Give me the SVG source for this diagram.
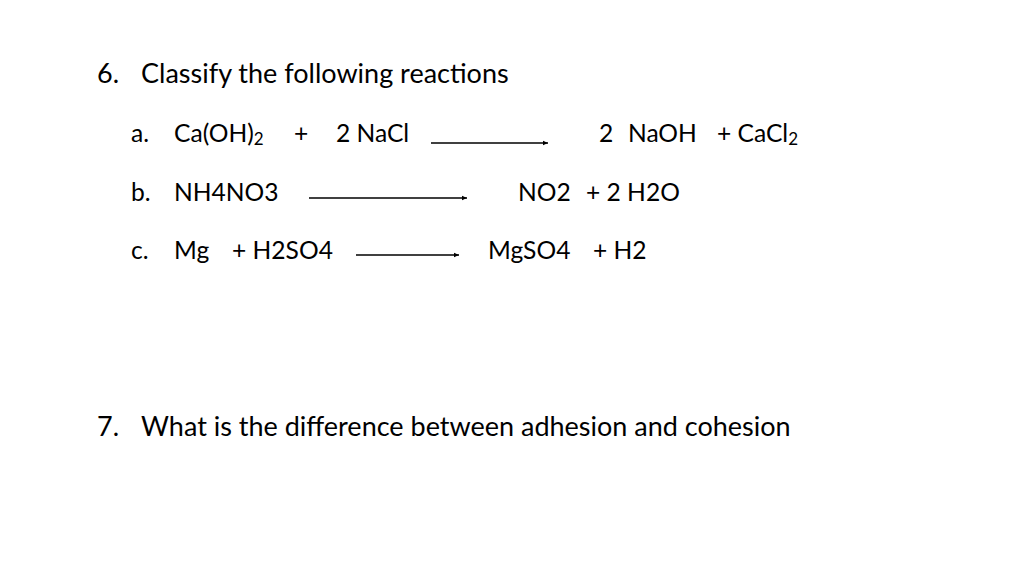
<svg xmlns="http://www.w3.org/2000/svg" width="1024" height="576" viewBox="0 0 1024 576">
<style>
text{font-family:Lato,"Liberation Sans",sans-serif;fill:#000}
.h{font-size:27px}
.t{font-size:24.6px}
.s{font-size:17px}
line{stroke:#000;stroke-width:1.3}
</style>
<defs><marker id="a" markerWidth="6" markerHeight="6" refX="5" refY="3" orient="auto" markerUnits="userSpaceOnUse"><path d="M0,0.8L5,3L0,5.2z" fill="#000"/></marker></defs>
<rect width="1024" height="576" fill="#fff"/>
<g id="q6"><text class="h" x="97" y="83">6.</text><text class="h" x="141" y="83">Classify the following reactions</text></g>
<g id="ra"><text class="t" x="131" y="142">a.</text><text class="t" x="174" y="142">Ca(OH)<tspan class="s" dy="3">2</tspan></text><text class="t" x="294" y="142">+</text><text class="t" x="336" y="142">2 NaCl</text>
<text class="t" x="599" y="142">2</text><text class="t" x="628" y="142">NaOH</text><text class="t" x="717" y="142">+ CaCl<tspan class="s" dy="3">2</tspan></text></g>
<g id="rb"><text class="t" x="131" y="201">b.</text><text class="t" x="174" y="201">NH4NO3</text><text class="t" x="518" y="201">NO2</text><text class="t" x="586" y="201">+ 2 H2O</text></g>
<g id="rc"><text class="t" x="131" y="259">c.</text><text class="t" x="174" y="259">Mg</text><text class="t" x="232" y="259">+ H2SO4</text><text class="t" x="488" y="259">MgSO4</text><text class="t" x="593" y="259">+ H2</text></g>
<g id="connectors">
<line x1="431" y1="143" x2="548" y2="143" marker-end="url(#a)"/>
<line x1="309" y1="198" x2="467" y2="198" marker-end="url(#a)"/>
<line x1="356" y1="255" x2="459" y2="255" marker-end="url(#a)"/>
</g>
<g id="q7"><text class="h" x="97" y="436">7.</text><text class="h" x="141" y="436">What is the difference between adhesion and cohesion</text></g>
</svg>
